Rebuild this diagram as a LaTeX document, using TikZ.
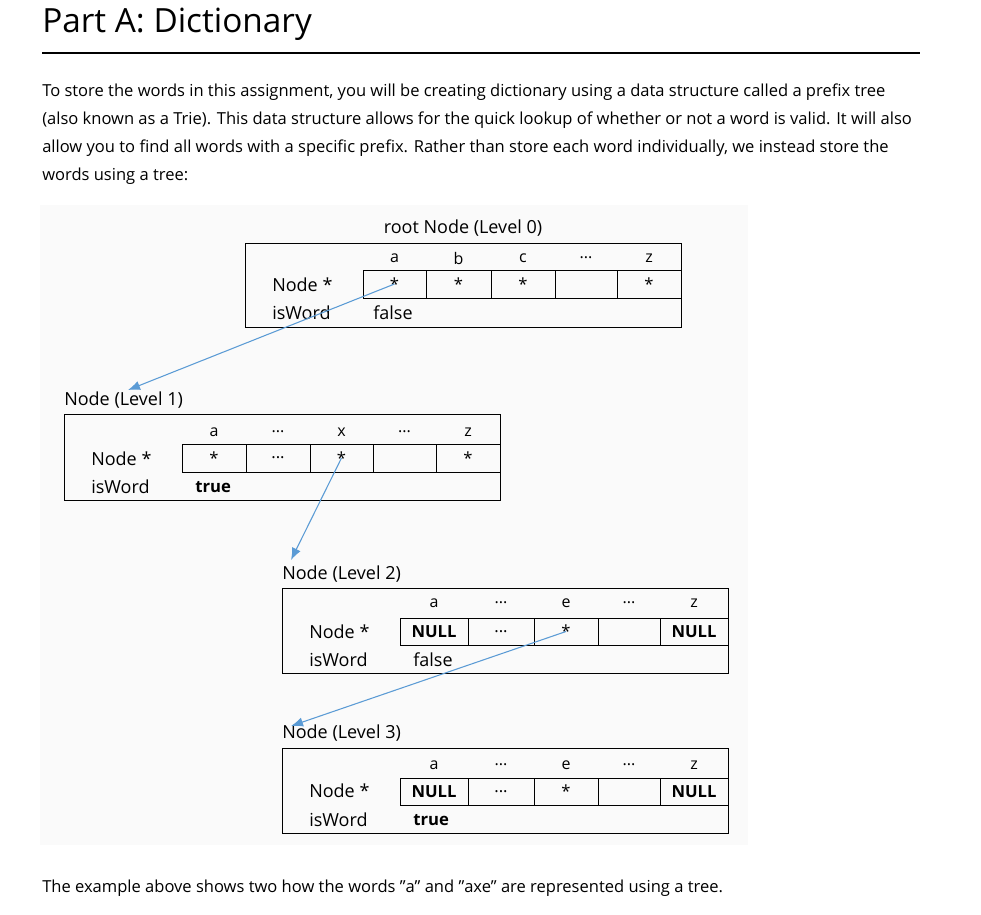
\documentclass[tikz,border=0pt]{standalone}
\usepackage{fontspec}
\setmainfont{Open Sans}
\usetikzlibrary{arrows.meta}
\definecolor{arr}{HTML}{5B9BD5}
\newcommand\dd{...}
\newcommand\qq{\char"22\relax}
\tikzset{
  lbl/.style={anchor=west,inner sep=0,font=\fontsize{13.5}{15}\selectfont},
  ttl/.style={anchor=west,inner sep=0,font=\fontsize{13.5}{15}\selectfont},
  cell/.style={draw,line width=0.7pt,inner sep=0,font=\fontsize{12.5}{14}\selectfont},
  let/.style={inner sep=0,font=\fontsize{12}{14}\selectfont},
  box/.style={draw,line width=0.7pt},
  ptr/.style={draw=arr,line width=0.8pt,-{Latex[length=9pt,width=7pt]}},
  para/.style={anchor=west,inner sep=0,font=\fontsize{12.4}{14}\selectfont}
}
\begin{document}
\begin{tikzpicture}[x=0.75pt,y=-0.75pt]
\useasboundingbox (0,0) rectangle (981,914);
\fill[white] (0,0) rectangle (981,914);
\fill[black!2] (40,205) rectangle (748,845);
\node[anchor=west,inner sep=0,font=\fontsize{25}{28}\selectfont] (title) at (42,24) {Part A: Dictionary};
\draw[line width=1pt] (42,53) -- (920,53);
\node[para] (p1) at (42,92) {To store the words in this assignment, you will be creating dictionary using a data structure called a prefix tree};
\node[para] (p2) at (42,120) {(also known as a Trie). This data structure allows for the quick lookup of whether or not a word is valid. It will also};
\node[para] (p3) at (42,148) {allow you to find all words with a specific prefix. Rather than store each word individually, we instead store the};
\node[para] (p4) at (42,176) {words using a tree:};
\node[para] (foot) at (42,888) {The example above shows two how the words \qq a\qq{} and \qq axe\qq{} are represented using a tree.};

% Level 0
\node[ttl,anchor=center] (t0) at (463,228) {root Node (Level 0)};
\draw[box] (245,243) rectangle (681,327);
\foreach \a/\b/\l/\c [count=\i] in {363/426/a/*,426/491/b/*,491/555/c/*,555/617/\dd/{},617/681/z/*}{
  \node[cell,minimum width=(\b-\a)*0.75pt,minimum height=28*0.75pt] (r\i) at ({(\a+\b)/2},284) {\c};
  \node[let] (rl\i) at ({(\a+\b)/2},258) {\l};
}
\node[lbl] (rn) at (272,285) {Node *};
\node[lbl] (rw) at (272,313) {isWord};
\node[lbl] (rf) at (373,313) {false};

% Level 1
\node[ttl] (t1) at (64,400) {Node (Level 1)};
\draw[box] (64,414) rectangle (500,500);
\foreach \a/\b/\l/\c [count=\i] in {182/246/a/*,246/310/\dd/\dd,310/373/x/*,373/436/\dd/{},436/500/z/*}{
  \node[cell,minimum width=(\b-\a)*0.75pt,minimum height=28*0.75pt] (a\i) at ({(\a+\b)/2},458) {\c};
  \node[let] (al\i) at ({(\a+\b)/2},432) {\l};
}
\node[lbl] (an) at (91,459) {Node *};
\node[lbl] (aw) at (91,487) {isWord};
\node[lbl,font=\fontsize{12.5}{14}\selectfont\bfseries] (af) at (195,487) {true};

% Level 2
\node[ttl] (t2) at (282,574) {Node (Level 2)};
\draw[box] (282,588) rectangle (728,673);
\foreach \a/\b/\l/\c [count=\i] in {400/468/a/\textbf{NULL},468/534/\dd/\dd,534/598/e/*,598/660/\dd/{},660/728/z/\textbf{NULL}}{
  \node[cell,minimum width=(\b-\a)*0.75pt,minimum height=27*0.75pt] (b\i) at ({(\a+\b)/2},631.5) {\c};
  \node[let] (bl\i) at ({(\a+\b)/2},603) {\l};
}
\node[lbl] (bn) at (309,632) {Node *};
\node[lbl] (bw) at (309,660) {isWord};
\node[lbl] (bf) at (413,660) {false};

% Level 3
\node[ttl] (t3) at (282,733) {Node (Level 3)};
\draw[box] (282,748) rectangle (728,833);
\foreach \a/\b/\l/\c [count=\i] in {400/468/a/\textbf{NULL},468/534/\dd/\dd,534/598/e/*,598/660/\dd/{},660/728/z/\textbf{NULL}}{
  \node[cell,minimum width=(\b-\a)*0.75pt,minimum height=27*0.75pt] (c\i) at ({(\a+\b)/2},791.5) {\c};
  \node[let] (cl\i) at ({(\a+\b)/2},765) {\l};
}
\node[lbl] (cn) at (309,791) {Node *};
\node[lbl] (cw) at (309,820) {isWord};
\node[lbl,font=\fontsize{12.5}{14}\selectfont\bfseries] (cf) at (413,820) {true};

% pointer ends
\coordinate (e1) at (128,390);
\coordinate (e2) at (291,560);
\coordinate (e3) at (291,726);
\draw[ptr] (r1.center) -- (e1);
\draw[ptr] (a3.center) -- (e2);
\draw[ptr] (b3.center) -- (e3);
\end{tikzpicture}
\end{document}
